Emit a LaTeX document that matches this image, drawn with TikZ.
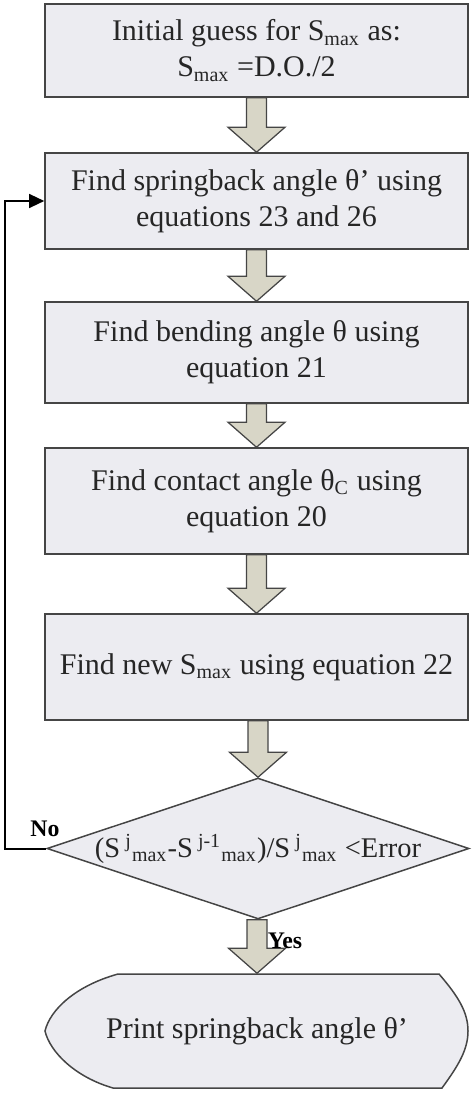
\documentclass[tikz,border=0pt]{standalone}
\usepackage{fontspec}
\setmainfont{Liberation Serif}
\usepackage{tikz}
\usetikzlibrary{arrows.meta,calc,positioning,shapes.geometric}
\definecolor{kutuGri}{HTML}{ECECF1}
\definecolor{okBej}{HTML}{D8D6C7}
\definecolor{cizgiGri}{HTML}{454545}
\newcommand{\Sm}{S\textsubscript{max}}
\newcommand{\kalinOk}[2]{%
  \draw[cizgiGri,fill=okBej,line width=0.5pt]
    ($(#2.north |- #1.south)+(-10,0)$) -- ($(#2.north)+(-10,-25)$)
    -- ($(#2.north)+(-28.5,-25)$) -- (#2.north) -- ($(#2.north)+(28.5,-25)$)
    -- ($(#2.north)+(10,-25)$) -- ($(#2.north |- #1.south)+(10,0)$) -- cycle;}

\begin{document}
\begin{tikzpicture}[x=0.4pt,y=-0.4pt,
  kutu/.style={draw=cizgiGri,fill=kutuGri,line width=0.6pt,minimum width=169.2pt,
    inner sep=0pt,align=center,text=black!85,font=\fontsize{12}{14.4}\selectfont},
  karar/.style={diamond,draw=cizgiGri,fill=kutuGri,line width=0.6pt,inner sep=0pt,
    minimum width=168.8pt,minimum height=56.4pt,text=black!85,font=\fontsize{11.4}{13.5}\selectfont},
  etiket/.style={inner sep=0pt,font=\fontsize{9.5}{11}\selectfont\bfseries}]
\useasboundingbox (0,0) rectangle (474,1097);
% process boxes
\node[kutu,minimum height=37.2pt] (ilk) at (256.5,50.5) {Initial guess for \Sm\ as:\\ \Sm\ =D.O./2};
\node[kutu,minimum height=38.4pt] (geri) at (256.5,201) {Find springback angle θ’ using\\ equations 23 and 26};
\node[kutu,minimum height=40.4pt] (bukme) at (256.5,352.5) {Find bending angle θ using\\ equation 21};
\node[kutu,minimum height=42.4pt] (temas) at (256.5,501) {Find contact angle θ\textsubscript{C} using\\ equation 20};
\node[kutu,minimum height=42.4pt] (yeni) at (256.5,667) {Find new \Sm\ using equation 22};
\node[karar] (kontrol) at (258,848.5) {\makebox[0pt]{\raisebox{-1.5pt}{(S\textsuperscript{ j}\textsubscript{max}-S\textsuperscript{ j-1}\textsubscript{max})/S\textsuperscript{ j}\textsubscript{max} <Error}}};
% terminal
\draw[cizgiGri,fill=kutuGri,line width=0.6pt] (118,974) -- (439,974)
  .. controls (458,996) and (468,1012) .. (468,1031)
  .. controls (468,1050) and (458,1066) .. (442,1088) -- (113,1088)
  .. controls (75,1077) and (50,1052) .. (45,1031)
  .. controls (50,1010) and (75,986) .. (118,974) -- cycle;
\node[kutu,draw=none,fill=none,minimum width=0pt,minimum height=45.6pt] (yaz) at (257,1031) {Print springback angle θ’};
% block arrows
\kalinOk{ilk}{geri}
\kalinOk{geri}{bukme}
\kalinOk{bukme}{temas}
\kalinOk{temas}{yeni}
\kalinOk{yeni}{kontrol}
\kalinOk{kontrol}{yaz}
% loop back
\draw[line width=0.8pt,-{Triangle[length=6pt,width=5.5pt]}] (kontrol.west) -- ++(-41,0) |- (geri.west);
\node[etiket] (hayir) at (45,829) {No};
\node[etiket] (evet) at (285,941) {Yes};
\end{tikzpicture}
\end{document}
